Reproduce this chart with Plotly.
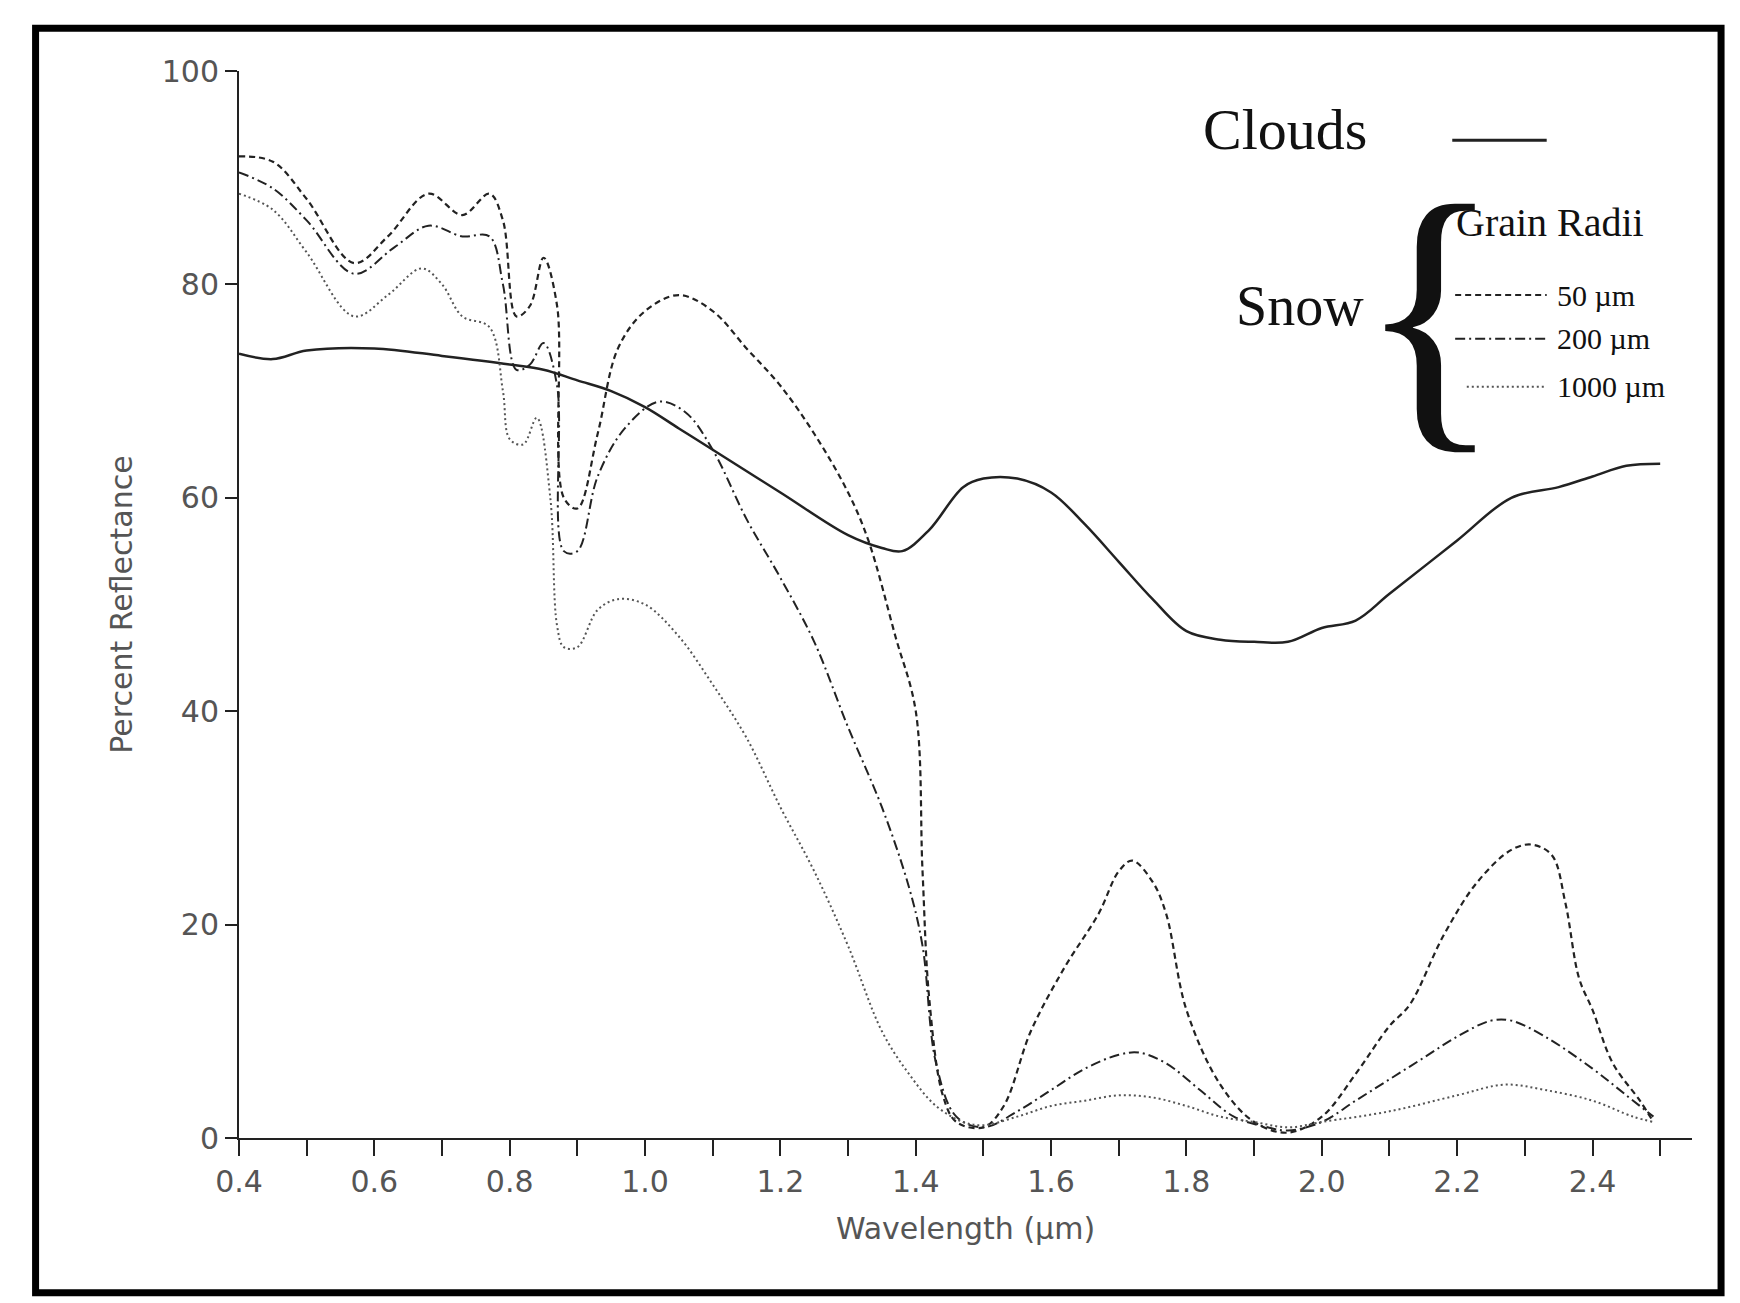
import plotly.graph_objects as go

# wavelength (um) / percent reflectance
cloud_x = [0.4, 0.45, 0.5, 0.6, 0.7, 0.8, 0.85, 0.9, 0.95, 1.0, 1.05, 1.1, 1.2, 1.3, 1.35, 1.38, 1.42, 1.47, 1.5, 1.55,
           1.6, 1.65, 1.7, 1.75, 1.8, 1.85, 1.9, 1.95, 2.0, 2.05, 2.1, 2.2, 2.28, 2.35, 2.4, 2.45, 2.5]
cloud_y = [73.5, 73, 73.8, 74, 73.3, 72.5, 72, 71, 70, 68.5, 66.5, 64.5, 60.5, 56.5, 55.3, 55, 57, 61, 61.8, 61.8,
           60.5, 57.5, 54, 50.5, 47.5, 46.7, 46.5, 46.5, 47.8, 48.5, 51, 56, 60, 61, 62, 63, 63.2]

snow50_x = [0.4, 0.45, 0.5, 0.57, 0.62, 0.68, 0.73, 0.77, 0.79, 0.81, 0.83, 0.85, 0.87, 0.88, 0.9, 0.93, 0.96, 1.0,
            1.05, 1.1, 1.15, 1.2, 1.25, 1.3, 1.33, 1.37, 1.4, 1.41, 1.42, 1.44, 1.46, 1.5, 1.53, 1.57, 1.62, 1.67,
            1.7, 1.72, 1.75, 1.77, 1.8, 1.85, 1.9, 1.95, 2.0, 2.05, 2.1, 2.13, 2.18, 2.23, 2.28, 2.31, 2.34, 2.36,
            2.38, 2.4, 2.43, 2.47, 2.49]
snow50_y = [92, 91.5, 88, 82, 84.5, 88.5, 86.5, 88.5, 86, 77, 78, 82.5, 78, 60, 59, 66, 74, 77.5,
            79, 77.5, 74, 70.5, 66, 60.5, 56, 47, 40, 25, 13, 4, 1.5, 1, 3, 10, 16, 21,
            25, 26, 24, 21, 12, 5, 1.5, 0.5, 2, 6, 10.5, 12.5, 19, 24, 27, 27.5, 26.5, 22,
            15, 12, 7, 3.5, 1.5]

snow200_x = [0.4, 0.45, 0.5, 0.57, 0.63, 0.68, 0.73, 0.77, 0.79, 0.81, 0.83, 0.85, 0.87, 0.88, 0.9, 0.93, 0.97,
             1.02, 1.06, 1.1, 1.15, 1.2, 1.25, 1.3, 1.35, 1.39, 1.41, 1.43, 1.46, 1.5, 1.55, 1.6, 1.65, 1.7, 1.73,
             1.77, 1.82, 1.87, 1.92, 1.95, 2.0, 2.05, 2.1, 2.15, 2.2, 2.25, 2.28, 2.33, 2.4, 2.45, 2.49]
snow200_y = [90.5, 89, 86, 81, 83.5, 85.5, 84.5, 84.5, 80, 72, 72.5, 74.5, 70.5, 55, 55, 62, 66.5,
             69, 68, 64.5, 58, 52.5, 46.5, 38.5, 31, 23.5, 18, 7, 2, 1, 2.5, 4.5, 6.5, 7.8, 8,
             7, 4.5, 2, 1, 0.7, 1.5, 3.5, 5.5, 7.5, 9.5, 11, 11, 9.5, 6.5, 4, 2]

snow1000_x = [0.4, 0.45, 0.5, 0.57, 0.62, 0.67, 0.7, 0.73, 0.77, 0.79, 0.8, 0.82, 0.84, 0.86, 0.87, 0.88, 0.9,
              0.93, 0.96, 1.0, 1.05, 1.1, 1.15, 1.2, 1.25, 1.3, 1.35, 1.39, 1.43, 1.47, 1.5, 1.55, 1.6, 1.65, 1.7,
              1.75, 1.8, 1.85, 1.9, 1.95, 2.0, 2.1, 2.2, 2.27, 2.33, 2.4, 2.46, 2.49]
snow1000_y = [88.5, 87, 83, 77, 79, 81.5, 80, 77, 76, 70, 65.5, 65, 67.5, 60, 48, 46, 46,
              49.5, 50.5, 50, 47, 42.5, 37.5, 31, 25, 18, 10, 6, 3, 1.5, 1.2, 2, 3, 3.5, 4,
              3.8, 3, 2, 1.5, 1, 1.5, 2.5, 4, 5, 4.5, 3.5, 2, 1.5]

x_ticks = [0.4, 0.6, 0.8, 1.0, 1.2, 1.4, 1.6, 1.8, 2.0, 2.2, 2.4]
x_labels = ["0.4", "0.6", "0.8", "1.0", "1.2", "1.4", "1.6", "1.8", "2.0", "2.2", "2.4"]
y_ticks = [0, 20, 40, 60, 80, 100]

fig = go.Figure()
line_c = "#222"
fig.add_trace(go.Scatter(x=cloud_x, y=cloud_y, mode="lines", line=dict(color=line_c, width=2.5, shape="spline")))
fig.add_trace(go.Scatter(x=snow50_x, y=snow50_y, mode="lines",
                         line=dict(color=line_c, width=2.2, dash="6px,4px", shape="spline")))
fig.add_trace(go.Scatter(x=snow200_x, y=snow200_y, mode="lines",
                         line=dict(color=line_c, width=2, dash="10px,4px,2px,4px", shape="spline")))
fig.add_trace(go.Scatter(x=snow1000_x, y=snow1000_y, mode="lines",
                         line=dict(color="#555", width=2, dash="2px,3px", shape="spline")))

serif = "Liberation Serif"
# legend drawn by hand, like the original
shapes = [
    dict(type="rect", xref="paper", yref="paper", x0=-0.14, x1=1.02, y0=-0.145, y1=1.04,
         line=dict(color="black", width=7)),
    dict(type="line", xref="paper", yref="paper", x0=0.835, x1=0.9, y0=0.935, y1=0.935,
         line=dict(color=line_c, width=3)),
    dict(type="line", xref="paper", yref="paper", x0=0.837, x1=0.9, y0=0.79, y1=0.79,
         line=dict(color=line_c, width=2, dash="6px,4px")),
    dict(type="line", xref="paper", yref="paper", x0=0.837, x1=0.9, y0=0.749, y1=0.749,
         line=dict(color=line_c, width=2, dash="10px,4px,2px,4px")),
    dict(type="line", xref="paper", yref="paper", x0=0.845, x1=0.9, y0=0.704, y1=0.704,
         line=dict(color="#555", width=2, dash="2px,3px")),
]
annotations = [
    dict(text="Clouds", x=0.72, y=0.945, size=58, anchor="center"),
    dict(text="Snow", x=0.73, y=0.78, size=56, anchor="center"),
    dict(text="{", x=0.82, y=0.775, size=300, anchor="center"),
    dict(text="Grain Radii", x=0.836, y=0.858, size=40, anchor="left"),
    dict(text="50 µm", x=0.906, y=0.79, size=30, anchor="left"),
    dict(text="200 µm", x=0.906, y=0.749, size=30, anchor="left"),
    dict(text="1000 µm", x=0.906, y=0.704, size=30, anchor="left"),
]
fig.update_layout(
    width=1740, height=1303, showlegend=False,
    paper_bgcolor="white", plot_bgcolor="white",
    margin=dict(l=231, r=56, t=63, b=173),
    shapes=shapes,
    annotations=[dict(text=a["text"], x=a["x"], y=a["y"], xref="paper", yref="paper", showarrow=False,
                      xanchor=a["anchor"], yanchor="middle",
                      font=dict(family=serif, size=a["size"], color="#111")) for a in annotations],
    xaxis=dict(range=[0.4, 2.547], tickvals=x_ticks, ticktext=x_labels, ticks="outside", ticklen=16,
               tickwidth=2, tickcolor="#222", showline=True, linecolor="#222", linewidth=2, showgrid=False,
               zeroline=False, minor=dict(dtick=0.1, tick0=0.4, ticks="outside", ticklen=16, tickwidth=2,
                                          tickcolor="#222"),
               tickfont=dict(family="DejaVu Sans", size=30, color="#555"),
               title=dict(text="Wavelength (µm)", font=dict(family="DejaVu Sans", size=30, color="#555"),
                          standoff=20)),
    yaxis=dict(range=[0, 100], tickvals=y_ticks, ticks="outside", ticklen=12, tickwidth=2, tickcolor="#222",
               showline=True, linecolor="#222", linewidth=2, showgrid=False, zeroline=False,
               tickfont=dict(family="DejaVu Sans", size=30, color="#555"),
               title=dict(text="Percent Reflectance", font=dict(family="DejaVu Sans", size=30, color="#555"),
                          standoff=20)),
)
fig.write_html("out.html")
